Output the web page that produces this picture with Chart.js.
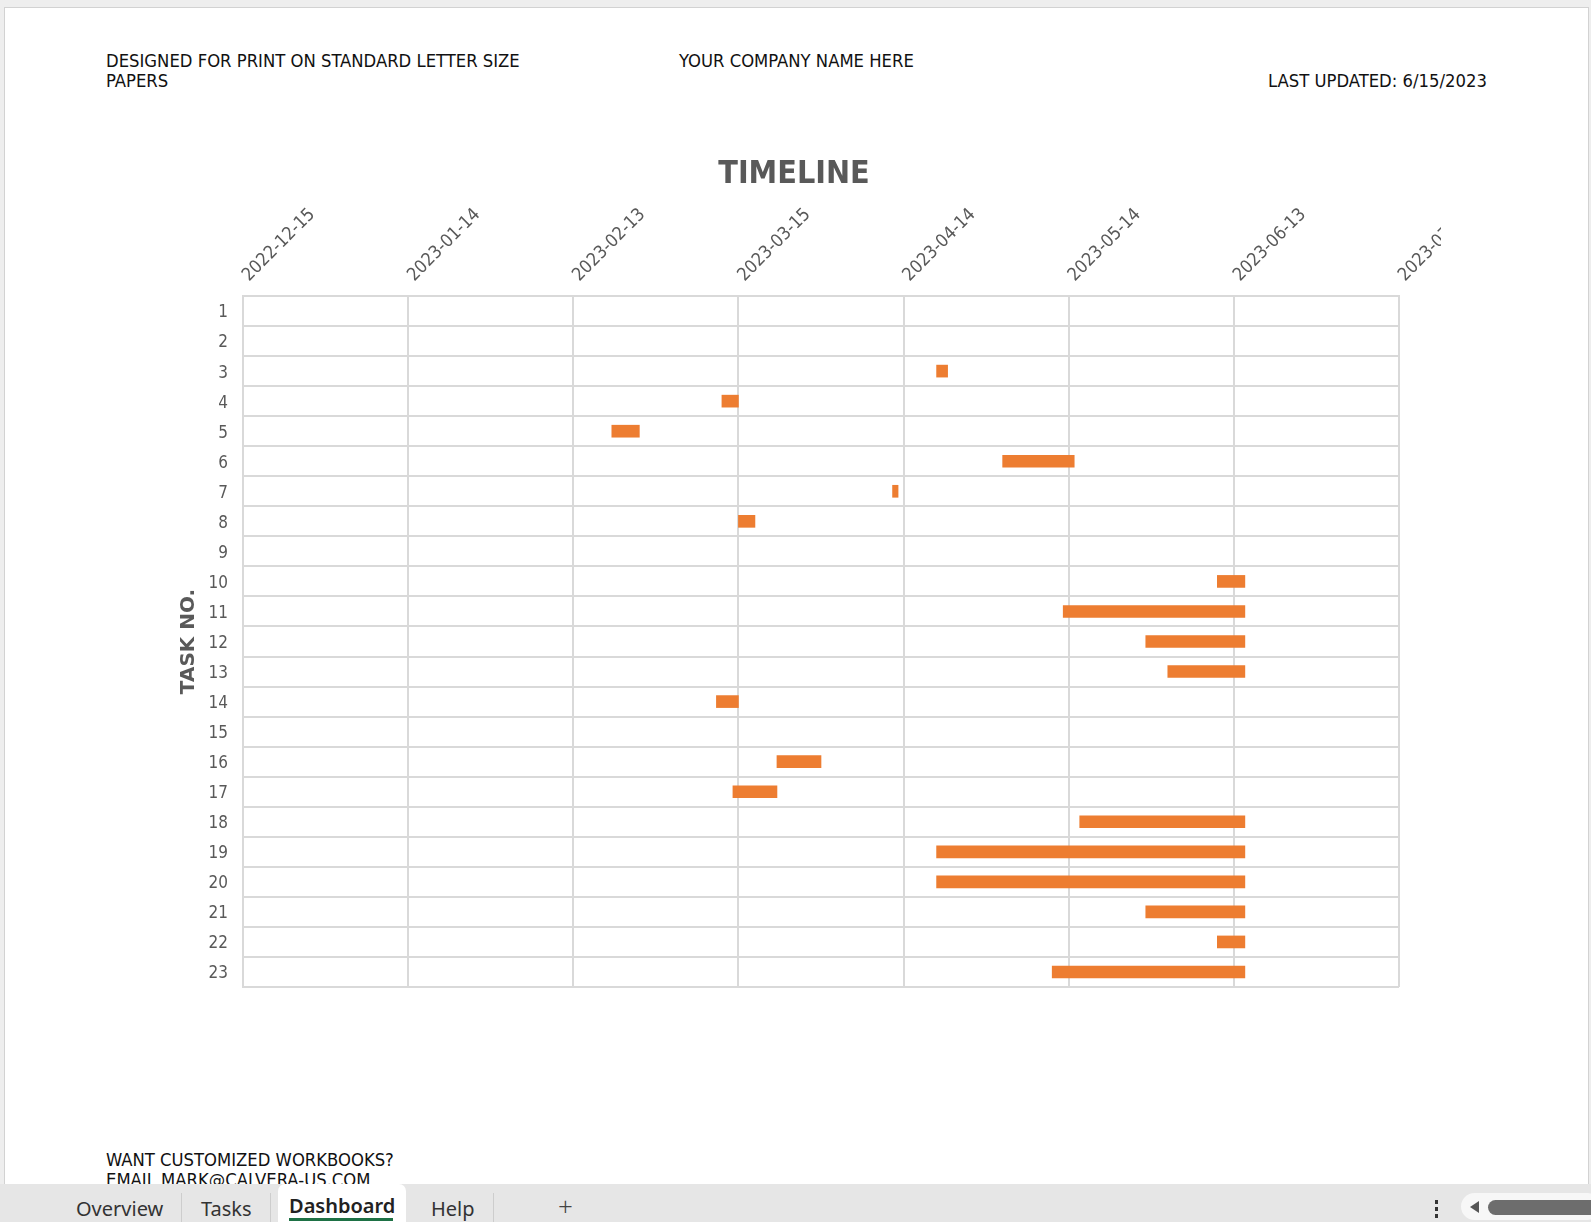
<!DOCTYPE html>
<html>
<head>
<meta charset="utf-8">
<title>Timeline</title>
<script src="https://cdn.jsdelivr.net/npm/chart.js@4.4.0/dist/chart.umd.min.js"></script>
<style>
  html, body { margin: 0; padding: 0; }
  body {
    width: 1591px; height: 1222px; position: relative; overflow: hidden;
    background: #eeeeee; font-family: "DejaVu Sans Condensed", "DejaVu Sans", sans-serif;
  }
  .sheet {
    position: absolute; left: 4px; top: 7px; width: 1585px; height: 1177px;
    background: #fff; border: 1px solid #d2d2d2; border-bottom: none; box-sizing: border-box;
  }
  .txt { position: absolute; font-size: 18.3px; font-stretch: condensed; line-height: 20px; color: #111; white-space: nowrap; }
  .title {
    position: absolute; left: 594px; top: 153px; width: 400px; text-align: center;
    font-family: "DejaVu Sans Condensed", "DejaVu Sans", sans-serif; font-stretch: condensed;
    font-weight: bold; font-size: 32px; line-height: 38px; color: #595959; z-index: 2;
  }
  #wrap { position: absolute; left: 147px; top: 150px; width: 1294px; height: 841px; }

  /* sheet tabs at the bottom */
  .tabbar { position: absolute; left: 0; top: 1184px; width: 1591px; height: 38px; background: #e6e6e6; z-index: 3; }
  .tab { position: absolute; top: 11px; font-family: "Noto Sans", sans-serif; font-size: 20px; line-height: 28px; color: #333; }
  .active { position: absolute; left: 278px; top: 0; width: 128px; height: 38px; background: #fff; border-radius: 7px 7px 0 0; }
  .underline { position: absolute; left: 289px; top: 34px; width: 104px; height: 3px; background: #1e7145; }
  .sep { position: absolute; top: 9px; width: 1px; height: 29px; background: #cdcdcd; }
  .dot { position: absolute; left: 1435px; width: 3px; height: 4px; background: #333; }
  .pill { position: absolute; left: 1461px; top: 9px; width: 140px; height: 27px; background: #f7f7f7; border-radius: 14px; }
  .arrow { position: absolute; left: 1470px; top: 17px; width: 0; height: 0;
    border-top: 6px solid transparent; border-bottom: 6px solid transparent; border-right: 9px solid #555; }
  .thumb { position: absolute; left: 1488px; top: 16px; width: 120px; height: 15px; background: #6d6d6d; border-radius: 8px; }
</style>
</head>
<body>
<div class="sheet"></div>

<div class="txt" style="left:106px; top:51px;">DESIGNED FOR PRINT ON STANDARD LETTER SIZE<br>PAPERS</div>
<div class="txt" style="left:679px; top:51px;">YOUR COMPANY NAME HERE</div>
<div class="txt" style="left:1268px; top:71px;">LAST UPDATED: 6/15/2023</div>

<div class="title">TIMELINE</div>

<div id="wrap"><canvas id="timeline" width="1294" height="841"></canvas></div>

<div class="txt" style="left:106px; top:1150px;">WANT CUSTOMIZED WORKBOOKS?<br>EMAIL MARK@CALVERA-US.COM</div>

<div class="tabbar">
  <div class="active"></div>
  <div class="tab" style="left:76px;">Overview</div>
  <div class="sep" style="left:181px;"></div>
  <div class="tab" style="left:201px;">Tasks</div>
  <div class="sep" style="left:270px;"></div>
  <div class="tab" style="left:289px; top:8px; font-weight:600; color:#222;">Dashboard</div>
  <div class="underline"></div>
  <div class="tab" style="left:431px;">Help</div>
  <div class="sep" style="left:493px;"></div>
  <div class="tab" style="left:558px; top:8px; font-size:26px; font-weight:300; color:#444;">+</div>
  <div class="dot" style="top:16px;"></div>
  <div class="dot" style="top:23px;"></div>
  <div class="dot" style="top:30px;"></div>
  <div class="pill"></div>
  <div class="arrow"></div>
  <div class="thumb"></div>
</div>

<script>
// task numbers down the side
const taskNumbers = ['1', '2', '3', '4', '5', '6', '7', '8', '9', '10', '11', '12',
                     '13', '14', '15', '16', '17', '18', '19', '20', '21', '22', '23'];

// start / end of each task bar (null = no bar)
const startDates = [null, null, '2023-04-20', '2023-03-12', '2023-02-20', '2023-05-02',
                    '2023-04-12', '2023-03-15', null, '2023-06-10', '2023-05-13', '2023-05-28',
                    '2023-06-01', '2023-03-11', null, '2023-03-22', '2023-03-14', '2023-05-16',
                    '2023-04-20', '2023-04-20', '2023-05-28', '2023-06-10', '2023-05-11'];
const endDates = [null, null, '2023-04-22', '2023-03-15', '2023-02-25', '2023-05-15',
                  '2023-04-13', '2023-03-18', null, '2023-06-15', '2023-06-15', '2023-06-15',
                  '2023-06-15', '2023-03-15', null, '2023-03-30', '2023-03-22', '2023-06-15',
                  '2023-06-15', '2023-06-15', '2023-06-15', '2023-06-15', '2023-06-15'];

// date ticks along the top
const tickDates = ['2022-12-15', '2023-01-14', '2023-02-13', '2023-03-15',
                   '2023-04-14', '2023-05-14', '2023-06-13', '2023-07-13'];

// days since the first tick
function dayOf(s) {
  const p = s.split('-').map(Number);
  const o = tickDates[0].split('-').map(Number);
  return (Date.UTC(p[0], p[1] - 1, p[2]) - Date.UTC(o[0], o[1] - 1, o[2])) / 86400000;
}

const bars = taskNumbers.map((t, i) =>
  startDates[i] ? [dayOf(startDates[i]), dayOf(endDates[i])] : null);

const gridGrey = '#d9d9d9';
const labelGrey = '#595959';
const fontFamily = '"DejaVu Sans Condensed", "DejaVu Sans"';

new Chart(document.getElementById('timeline'), {
  type: 'bar',
  data: {
    labels: taskNumbers,
    datasets: [{
      data: bars,
      backgroundColor: '#ed7d31',
      borderWidth: 0,
      barThickness: 12
    }]
  },
  options: {
    indexAxis: 'y',
    responsive: false,
    animation: false,
    layout: { padding: { left: 0, right: 42, top: 0, bottom: 4 } },
    plugins: { legend: { display: false }, tooltip: { enabled: false } },
    scales: {
      x: {
        type: 'linear',
        position: 'top',
        min: dayOf(tickDates[0]),
        max: dayOf(tickDates[tickDates.length - 1]),
        afterBuildTicks: (scale) => {
          scale.ticks = tickDates.map(d => ({ value: dayOf(d) }));
        },
        afterFit: (scale) => {
          scale.height = 146;
          scale.paddingLeft = 0;
          scale.paddingRight = 0;
        },
        grid: { color: gridGrey, lineWidth: 2, drawTicks: false },
        border: { display: true, color: gridGrey, width: 2 },
        ticks: {
          autoSkip: false,
          minRotation: 45,
          maxRotation: 45,
          padding: 10,
          labelOffset: 18,
          color: labelGrey,
          font: { family: fontFamily, size: 18 },
          callback: (value) => tickDates.find(d => dayOf(d) === value)
        }
      },
      y: {
        afterFit: (scale) => {
          scale.width = 96;
          scale.paddingTop = 0;
          scale.paddingBottom = 0;
        },
        grid: { color: gridGrey, lineWidth: 2, drawTicks: false },
        border: { display: true, color: gridGrey, width: 2 },
        ticks: {
          autoSkip: false,
          padding: 15,
          labelOffset: 2,
          color: labelGrey,
          font: { family: fontFamily, size: 17 }
        },
        title: {
          display: true,
          text: 'TASK NO.',
          color: labelGrey,
          font: { family: 'DejaVu Sans', size: 20, weight: 'bold' },
          padding: { top: 30, bottom: 0 }
        }
      }
    }
  }
});
</script>
</body>
</html>
